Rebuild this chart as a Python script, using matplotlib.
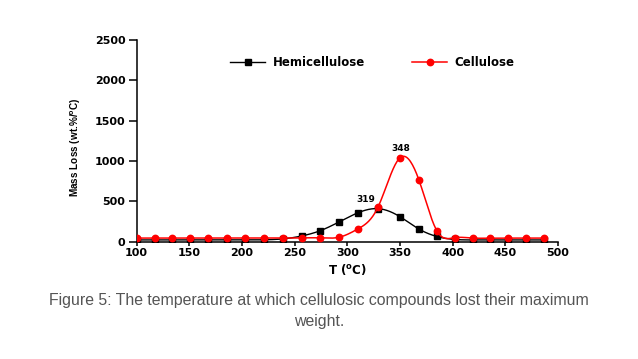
import numpy as np
import matplotlib.pyplot as plt
from matplotlib.lines import Line2D

# --- data ---
temp = [100, 117, 134, 151, 168, 186, 203, 221, 239, 257, 274, 292,
        310, 329, 350, 368, 385, 402, 419, 435, 453, 470, 487]
hemicellulose = [22, 22, 22, 22, 22, 22, 22, 24, 35, 72, 135, 244,
                 358, 410, 310, 157, 65, 28, 22, 22, 22, 22, 22]
cellulose = [45, 45, 45, 45, 45, 45, 45, 45, 46, 47, 48, 55,
             158, 425, 1040, 765, 136, 50, 45, 45, 45, 45, 45]
peak_labels = [("319", 318, 520), ("348", 350.5, 1150)]

x_ticks = [100, 150, 200, 250, 300, 350, 400, 450, 500]
y_ticks = [0, 500, 1000, 1500, 2000, 2500]


def smooth(x, y, num=400):
    # natural cubic spline through the points (drawing only)
    x = np.asarray(x, float)
    y = np.asarray(y, float)
    n = len(x)
    h = np.diff(x)
    A = np.zeros((n, n))
    b = np.zeros(n)
    A[0, 0] = A[-1, -1] = 1
    for i in range(1, n - 1):
        A[i, i - 1] = h[i - 1]
        A[i, i] = 2 * (h[i - 1] + h[i])
        A[i, i + 1] = h[i]
        b[i] = 6 * ((y[i + 1] - y[i]) / h[i] - (y[i] - y[i - 1]) / h[i - 1])
    M = np.linalg.solve(A, b)
    xs = np.linspace(x[0], x[-1], num)
    k = np.clip(np.searchsorted(x, xs) - 1, 0, n - 2)
    t0 = x[k + 1] - xs
    t1 = xs - x[k]
    ys = (M[k] * t0**3 + M[k + 1] * t1**3) / (6 * h[k]) \
        + (y[k] / h[k] - M[k] * h[k] / 6) * t0 \
        + (y[k + 1] / h[k] - M[k + 1] * h[k] / 6) * t1
    return xs, ys


fig = plt.figure(figsize=(6.38, 3.59), dpi=100)
ax = fig.add_axes([0.2141, 0.3267, 0.6605, 0.5618])

hx, hy = smooth(temp, hemicellulose)
cx, cy = smooth(temp, cellulose)
ax.plot(hx, hy, color="black", lw=1.0, zorder=2)
ax.plot(temp, hemicellulose, ls="none", marker="s", ms=3.8, color="black", zorder=3)
ax.plot(cx, cy, color="#ff0000", lw=1.1, zorder=4)
ax.plot(temp, cellulose, ls="none", marker="o", ms=4.6, color="#ff0000", zorder=5)

for txt, xv, yv in peak_labels:
    ax.text(xv, yv, txt, ha="center", va="center", fontsize=6.5,
            fontweight="bold", family="DejaVu Sans")

ax.set_xlim(100, 500)
ax.set_ylim(0, 2500)
ax.set_xticks(x_ticks)
ax.set_yticks(y_ticks)
for s in ["top", "right"]:
    ax.spines[s].set_visible(False)
for s in ["left", "bottom"]:
    ax.spines[s].set_linewidth(1.1)
ax.tick_params(axis="x", length=3, width=1.1, pad=1.5)
ax.tick_params(axis="y", length=6, width=1.1, pad=2)
for lab in ax.get_xticklabels() + ax.get_yticklabels():
    lab.set_fontsize(8)
    lab.set_fontweight("bold")
    lab.set_family("DejaVu Sans")

ax.set_xlabel(r"T ($^\mathregular{o}$C)", fontsize=8.5, fontweight="bold",
              family="DejaVu Sans", labelpad=3)
ax.set_ylabel(r"Mass Loss (wt.%/$^\mathregular{o}$C)", fontsize=7.2, fontweight="bold",
              family="Liberation Sans")
ax.yaxis.set_label_coords(-0.127, 0.47)

handles = [
    Line2D([], [], color="black", lw=1.0, marker="s", ms=3.8),
    Line2D([], [], color="#ff0000", lw=1.1, marker="o", ms=4.6),
]
ax.legend(handles, ["Hemicellulose", "Cellulose"], ncol=2, loc="center left",
          bbox_to_anchor=(0.2216, 0.89), frameon=False, borderpad=0,
          borderaxespad=0, handlelength=3.0, handletextpad=0.6,
          columnspacing=4.0, prop={"family": "DejaVu Sans", "weight": "bold", "size": 8.5})

fig.text(0.5, 0.1616, "Figure 5: The temperature at which cellulosic compounds lost their maximum",
         ha="center", va="center", fontsize=11.4, color="#555555", family="Liberation Sans")
fig.text(0.5, 0.1031, "weight.", ha="center", va="center", fontsize=11.4,
         color="#555555", family="Liberation Sans")

fig.savefig("out.png", dpi=100)
